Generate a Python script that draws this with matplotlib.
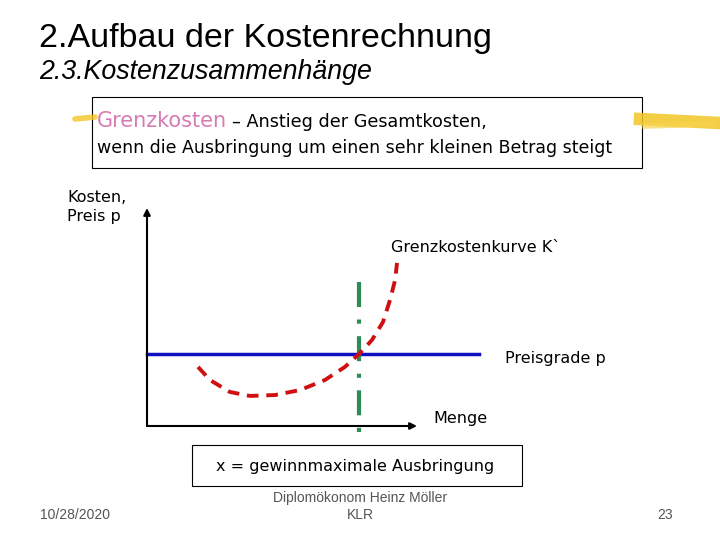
import numpy as np
import matplotlib.pyplot as plt

menge = [1.89, 2.33, 3.07, 3.81, 4.74, 5.67, 6.59, 7.33, 7.85, 8.33, 8.74, 9.0, 9.19, 9.26]
grenzkosten = [2.71, 2.11, 1.56, 1.38, 1.42, 1.65, 2.11, 2.71, 3.30, 3.94, 4.77, 5.78, 6.70, 7.48]
preis = 3.3
x_opt = 7.85

W, H = 720, 540
fig = plt.figure(figsize=(7.2, 5.4), dpi=100)

def fx(px):
    return px / W

def fy(py):
    return 1 - py / H

# Titel
fig.text(fx(39), fy(39), "2.Aufbau der Kostenrechnung", family="Liberation Sans",
         fontsize=24.5, va="center", ha="left")
fig.text(fx(39), fy(72), "2.3.Kostenzusammenhänge", family="Liberation Sans",
         style="italic", fontsize=19.3, va="center", ha="left")

# gelbe Pinselstriche
bg = fig.add_axes([0, 0, 1, 1])
bg.set_xlim(0, W)
bg.set_ylim(H, 0)
bg.axis("off")
bg.plot([75, 95], [119, 117], color="#f3c623", lw=4, solid_capstyle="round", alpha=0.8)
bg.plot([640, 720], [119, 123], color="#f3c623", lw=9, alpha=0.85)
bg.plot([645, 712], [126, 124], color="#f7d450", lw=4, alpha=0.7)

# Definitionskasten
bg.add_patch(plt.Rectangle((92, 97), 550, 71, fill=True, facecolor="white",
                           edgecolor="black", lw=0.8))
bg.text(97, 121, "Grenzkosten", color="#d87bb4", fontsize=15, va="center",
        ha="left", family="DejaVu Sans")
bg.text(232, 122, "– Anstieg der Gesamtkosten,", color="black", fontsize=12.7,
        va="center", ha="left", family="DejaVu Sans")
bg.text(97, 148, "wenn die Ausbringung um einen sehr kleinen Betrag steigt",
        color="black", fontsize=12.5, va="center", ha="left", family="DejaVu Sans")

# Diagramm
ax = fig.add_axes([fx(147), fy(426), (417 - 147) / W, (426 - 208) / H])
ax.set_xlim(0, 10)
ax.set_ylim(0, 10)
ax.axis("off")
ax.annotate("", xy=(0, 10), xytext=(0, 0),
            arrowprops=dict(arrowstyle="-|>", color="black", lw=1.5,
                            mutation_scale=10, shrinkA=0, shrinkB=0))
ax.annotate("", xy=(10, 0), xytext=(0, 0),
            arrowprops=dict(arrowstyle="-|>", color="black", lw=1.5,
                            mutation_scale=10, shrinkA=0, shrinkB=0))
ax.plot([0, 12.3], [preis, preis], color="#1010c0", lw=2.5, clip_on=False)
ax.plot([x_opt, x_opt], [6.6, -0.8], color="#2e8b57", lw=3,
        linestyle=(0, (6, 3, 1, 3)), clip_on=False)
ax.plot(menge, grenzkosten, color="#d01010", lw=2.8, linestyle=(0, (3, 2)),
        clip_on=False)

fs = 11.5
bg.text(67, 197, "Kosten,", fontsize=fs, va="center", ha="left")
bg.text(67, 217, "Preis p", fontsize=fs, va="center", ha="left")
bg.text(391, 248, "Grenzkostenkurve K`", fontsize=fs, va="center", ha="left")
bg.text(505, 358, "Preisgrade p", fontsize=fs, va="center", ha="left")
bg.text(433, 418, "Menge", fontsize=fs, va="center", ha="left")

bg.add_patch(plt.Rectangle((192, 445), 330, 41, facecolor="white",
                           edgecolor="black", lw=0.8, zorder=3))
bg.text(355, 467, "x = gewinnmaximale Ausbringung", fontsize=fs, va="center",
        ha="center", zorder=4)

# Fußzeile
gray = "#555555"
bg.text(40, 515, "10/28/2020", fontsize=10, color=gray, va="center", ha="left",
        family="Liberation Sans")
bg.text(360, 498, "Diplomökonom Heinz Möller", fontsize=10, color=gray,
        va="center", ha="center", family="Liberation Sans")
bg.text(360, 515, "KLR", fontsize=10, color=gray, va="center", ha="center",
        family="Liberation Sans")
bg.text(673, 515, "23", fontsize=10, color=gray, va="center", ha="right",
        family="Liberation Sans")

fig.savefig("out.png", dpi=100)
